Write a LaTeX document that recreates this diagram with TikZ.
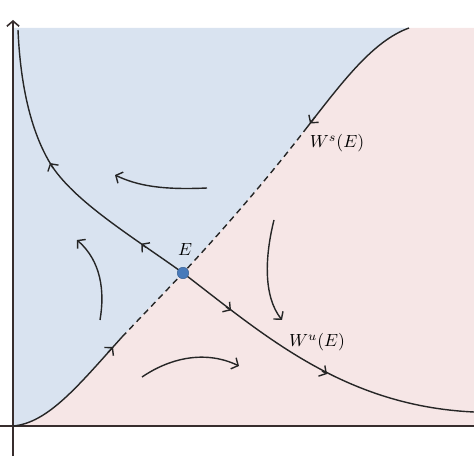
\documentclass[tikz,border=0pt]{standalone}
\usepackage{tikz}
\usetikzlibrary{arrows.meta}

\definecolor{stablefill}{RGB}{217,227,240}
\definecolor{unstablefill}{RGB}{246,230,230}
\definecolor{eqpoint}{RGB}{72,122,186}
\definecolor{axiscol}{RGB}{55,45,45}

\begin{document}
\begin{tikzpicture}[
        x=0.02cm, y=0.02cm,
        orbit/.style={draw=black!85, line width=0.8pt},
        flow/.style={orbit, -{Straight Barb[length=3pt,width=7pt]}},
        tag/.style={inner sep=1pt}
    ]
    \useasboundingbox (-13,-48) rectangle (461,426);

    % Regions
    \fill[stablefill] (0,398) -- (0,0) .. controls (35,3) and (65,40) .. (109,89)
        .. controls (130,111) and (150,132) .. (170,153)
        .. controls (210,196) and (255,248) .. (292,296)
        .. controls (330,345) and (360,385) .. (396,398) -- cycle;
    \fill[unstablefill] (461,398) -- (461,0) -- (0,0) .. controls (35,3) and (65,40) .. (109,89)
        .. controls (130,111) and (150,132) .. (170,153)
        .. controls (210,196) and (255,248) .. (292,296)
        .. controls (330,345) and (360,385) .. (396,398) -- cycle;

    % Axes
    \coordinate (O) at (0,0);
    \coordinate (xl) at (-13,0);
    \coordinate (xr) at (461,0);
    \coordinate (yb) at (0,-30);
    \coordinate (yt) at (0,406);
    \draw[axiscol, line width=1pt] (xl) -- (xr);
    \draw[axiscol, line width=0.9pt, -{Straight Barb[length=3pt,width=7pt]}] (yb) -- (yt);

    % Stable manifold
    \draw[orbit] (O) .. controls (35,3) and (65,40) .. (109,89);
    \draw[orbit, dash pattern=on 3.5pt off 2.5pt] (109,89) .. controls (130,111) and (150,132) .. (170,153)
        .. controls (210,196) and (255,248) .. (292,296);
    \draw[orbit] (292,296) .. controls (330,345) and (360,385) .. (396,398);

    % Unstable manifold
    \draw[orbit] (170,153) .. controls (120,189) and (60,225) .. (37,263)
        .. controls (15,300) and (7,350) .. (5,396);
    \draw[orbit] (170,153) .. controls (250,92) and (330,20) .. (461,14);

    % Arrows on the manifolds
    \draw[flow] (95,73.5) -- (100,79);
    \draw[flow] (302,309) -- (297,302.5);
    \draw[flow] (133,178.5) -- (128.3,182.3);
    \draw[flow] (40,258) -- (37,263);
    \draw[flow] (213,119.2) -- (218,115.6);
    \draw[flow] (309,55) -- (314,52);

    % Flow
    \draw[flow] (194,238) .. controls (150,236) and (125,240) .. (102,251);
    \draw[flow] (87,106) .. controls (92,135) and (88,165) .. (64,186);
    \draw[flow] (129,49) .. controls (160,70) and (195,75) .. (226,60);
    \draw[flow] (261,206) .. controls (252,170) and (250,130) .. (269,106);

    % Nodes
    \node[circle, fill=eqpoint, draw=eqpoint!80!black, line width=0.3pt, inner sep=0pt, minimum size=6.5pt] (E) at (170,153) {};
    \node[tag] (Elab) at (172,177) {$E$};
    \node[tag] (Ws) at (324,283) {$W^{s}(E)$};
    \node[tag] (Wu) at (304,84) {$W^{u}(E)$};

\end{tikzpicture}
\end{document}
